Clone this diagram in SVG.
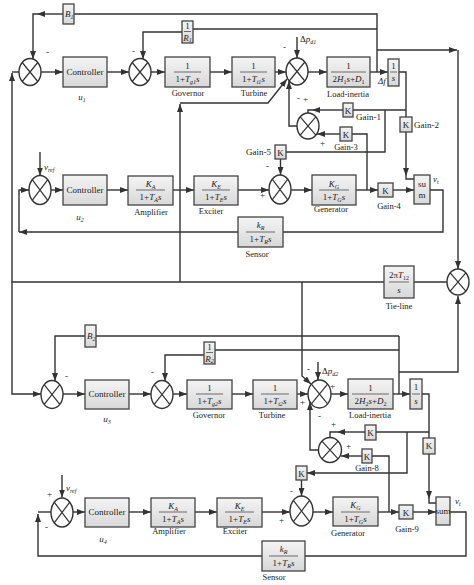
<svg xmlns="http://www.w3.org/2000/svg" width="474" height="585" viewBox="0 0 474 585">
<defs>
<linearGradient id="g" x1="0" y1="0" x2="0" y2="1">
<stop offset="0" stop-color="#f4f4f4"/><stop offset="1" stop-color="#d8d8d8"/>
</linearGradient>
<marker id="a" viewBox="0 0 8 6" refX="8" refY="3" markerWidth="8" markerHeight="6" markerUnits="userSpaceOnUse" orient="auto"><path d="M0,0L8,3L0,6z" fill="#333"/></marker>
<style>
.l{fill:none;stroke:#333;stroke-width:1.4}
.ar{marker-end:url(#a)}
.b{fill:url(#g);stroke:#444;stroke-width:1.3}
.s{fill:#fff;stroke:#333;stroke-width:1.4}
.x{stroke:#333;stroke-width:1.2;fill:none}
.fl{stroke:#333;stroke-width:0.7}
text{font-family:"Liberation Serif",serif;fill:#222;font-size:9px}
.c{text-anchor:middle}
.i{font-style:italic}
.sb{font-size:6px}
.lb{font-size:8.5px;text-anchor:middle}
</style>
</defs>
<rect width="474" height="585" fill="#fff"/>

<g id="connectors">
<path class="l ar" d="M63,14 H37"/>
<path class="l ar" d="M37,14 H33 V59"/>
<path class="l ar" d="M41,72 H63"/>
<path class="l ar" d="M107,72 H129"/>
<path class="l ar" d="M182,32 H143 V59"/>
<path class="l ar" d="M151,72 H165"/>
<path class="l ar" d="M210,72 H232"/>
<path class="l ar" d="M275,72 H286"/>
<path class="l ar" d="M297,37 V58"/>
<path class="l ar" d="M308,72 H327"/>
<path class="l ar" d="M370,72 H388"/>
<path class="l" d="M377,72 V14 H74"/>
<path class="l" d="M377,29 H193"/>
<path class="l ar" d="M377,50 H457"/>
<path class="l ar" d="M458,50 V269"/>
<path class="l ar" d="M399,72 H406 V176"/>
<path class="l" d="M406,176 V179 H414"/>
<path class="l" d="M406,110 H353"/>
<path class="l ar" d="M343,110 H312"/>
<path class="l" d="M312,110 H308 V113"/>
<path class="l" d="M385,110 V152 H286"/>
<path class="l ar" d="M280.5,159 V175"/>
<path class="l ar" d="M297,126 H289 V81"/>
<path class="l" d="M367,190 V134 H352"/>
<path class="l ar" d="M340,134 H317"/>
<path class="l ar" d="M180,282 V104"/>
<path class="l ar" d="M180,103 H268 L287,79"/>
<path class="l ar" d="M12,282 V73"/>
<path class="l" d="M12,72 H19"/>
<path class="l" d="M447,282 H414"/>
<path class="l ar" d="M384,282 H12 V394 H41"/>
<path class="l ar" d="M302,282 V376 L311,384"/>
<path class="l ar" d="M40,152 V175.5"/>
<path class="l ar" d="M51,190 H63"/>
<path class="l ar" d="M107,190 H128"/>
<path class="l ar" d="M173,190 H194"/>
<path class="l ar" d="M238,190 H269"/>
<path class="l ar" d="M291,190 H312"/>
<path class="l ar" d="M356,190 H378"/>
<path class="l ar" d="M393,190 H414"/>
<path class="l" d="M430,190 H443 V232 H283"/>
<path class="l ar" d="M238,232 H19"/>
<path class="l ar" d="M19,232 V190 H29"/>

<path class="l ar" d="M85,336 H55 V381"/>
<path class="l" d="M96,336 H399"/>
<path class="l ar" d="M204,355 H165 V381"/>
<path class="l" d="M215,350 H399"/>
<path class="l" d="M399,336 V394"/>
<path class="l ar" d="M399,372 H458 V296"/>
<path class="l ar" d="M63,394 H85"/>
<path class="l ar" d="M129,394 H151"/>
<path class="l ar" d="M173,394 H187"/>
<path class="l ar" d="M232,394 H253"/>
<path class="l ar" d="M297,394 H308"/>
<path class="l ar" d="M318,362 V380"/>
<path class="l ar" d="M331,394 H348"/>
<path class="l ar" d="M393,394 H410"/>
<path class="l ar" d="M422,394 H429 V499"/>
<path class="l" d="M429,499 V503 H436"/>
<path class="l" d="M429,432 H376"/>
<path class="l ar" d="M365,432 H337"/>
<path class="l" d="M337,432 H330 V437.5"/>
<path class="l" d="M389,512 V456 H372"/>
<path class="l ar" d="M362,456 H341"/>
<path class="l ar" d="M318.5,450 H310 V402"/>
<path class="l ar" d="M407,432 V473 H307"/>
<path class="l ar" d="M301.5,480 V496"/>
<path class="l ar" d="M62,475 V497.5"/>
<path class="l ar" d="M73,512 H85"/>
<path class="l ar" d="M129,512 H151"/>
<path class="l ar" d="M195,512 H217"/>
<path class="l ar" d="M262,512 H290"/>
<path class="l ar" d="M313,512 H333"/>
<path class="l ar" d="M378,512 H399"/>
<path class="l ar" d="M413,512 H436"/>
<path class="l" d="M450,512 H466 V556 H305"/>
<path class="l ar" d="M262,556 H38 V514"/>
<path class="l" d="M38,512 H51"/>
</g>

<!-- Summing junctions -->
<g id="sum1"><ellipse class="s" cx="30" cy="72" rx="11" ry="13.5"/><path class="x" d="M22.2,62.5 L37.8,81.5 M37.8,62.5 L22.2,81.5"/></g>
<g id="sum2"><ellipse class="s" cx="140" cy="72" rx="11" ry="13.5"/><path class="x" d="M132.2,62.5 L147.8,81.5 M147.8,62.5 L132.2,81.5"/></g>
<g id="sum3"><ellipse class="s" cx="297" cy="71.5" rx="11" ry="13.5"/><path class="x" d="M289.2,62 L304.8,81 M304.8,62 L289.2,81"/></g>
<g id="gsum1"><ellipse class="s" cx="308" cy="126" rx="11" ry="13"/><path class="x" d="M300.2,116.8 L315.8,135.2 M315.8,116.8 L300.2,135.2"/></g>
<g id="vref1"><ellipse class="s" cx="40" cy="190" rx="11" ry="14.5"/><path class="x" d="M32.2,179.7 L47.8,200.3 M47.8,179.7 L32.2,200.3"/></g>
<g id="vsum1"><ellipse class="s" cx="280" cy="189.5" rx="11" ry="14.5"/><path class="x" d="M272.2,179.2 L287.8,199.8 M287.8,179.2 L272.2,199.8"/></g>
<g id="bigsum"><ellipse class="s" cx="458" cy="282" rx="11" ry="13"/><path class="x" d="M450.2,272.8 L465.8,291.2 M465.8,272.8 L450.2,291.2"/></g>
<g id="sum21"><ellipse class="s" cx="52" cy="394.5" rx="11" ry="14"/><path class="x" d="M44.2,384.6 L59.8,404.4 M59.8,384.6 L44.2,404.4"/></g>
<g id="sum22"><ellipse class="s" cx="162" cy="394.5" rx="11" ry="14"/><path class="x" d="M154.2,384.6 L169.8,404.4 M169.8,384.6 L154.2,404.4"/></g>
<g id="sum23"><ellipse class="s" cx="319.5" cy="394" rx="11.5" ry="14"/><path class="x" d="M311.4,384.1 L327.6,403.9 M327.6,384.1 L311.4,403.9"/></g>
<g id="gsum2"><ellipse class="s" cx="330" cy="450" rx="11.5" ry="12.5"/><path class="x" d="M321.9,441.2 L338.1,458.8 M338.1,441.2 L321.9,458.8"/></g>
<g id="vref2"><ellipse class="s" cx="62" cy="512.5" rx="11" ry="14.5"/><path class="x" d="M54.2,502.2 L69.8,522.8 M69.8,502.2 L54.2,522.8"/></g>
<g id="vsum2"><ellipse class="s" cx="301.5" cy="511" rx="11.5" ry="15"/><path class="x" d="M293.4,500.4 L309.6,521.6 M309.6,500.4 L293.4,521.6"/></g>

<!-- Area 1 blocks -->
<g id="B1"><rect class="b" x="63" y="4" width="11" height="20"/><text x="65" y="17" class="i">B<tspan class="sb" dy="2">1</tspan></text></g>
<g id="R1"><rect class="b" x="182" y="21" width="11" height="22"/><text class="c" x="187.5" y="29">1</text><line class="fl" x1="184" y1="31.5" x2="191" y2="31.5"/><text class="c i" x="187.5" y="40.5" font-size="8">R<tspan class="sb" dy="1.5">1</tspan></text></g>
<g id="ctrl1"><rect class="b" x="63" y="57" width="44" height="30"/><text class="c" x="85" y="75">Controller</text><text class="c i" x="82" y="100">u<tspan class="sb" dy="2">1</tspan></text></g>
<g id="gov1"><rect class="b" x="165" y="57" width="45" height="30"/><text class="c" x="187.5" y="69">1</text><line class="fl" x1="174" y1="72" x2="201" y2="72"/><text class="c" x="187.5" y="82">1+<tspan class="i">T</tspan><tspan class="sb i" dy="2">g1</tspan><tspan class="i" dy="-2">s</tspan></text><text class="lb" x="188" y="96">Governor</text></g>
<g id="tur1"><rect class="b" x="232" y="57" width="43" height="30"/><text class="c" x="253.5" y="69">1</text><line class="fl" x1="240" y1="72" x2="267" y2="72"/><text class="c" x="253.5" y="82">1+<tspan class="i">T</tspan><tspan class="sb i" dy="2">t1</tspan><tspan class="i" dy="-2">s</tspan></text><text class="lb" x="254" y="96">Turbine</text></g>
<g id="dp1"><text x="300" y="42">Δ<tspan class="i">p</tspan><tspan class="sb i" dy="2">d1</tspan></text></g>
<g id="load1"><rect class="b" x="327" y="57" width="43" height="30"/><text class="c" x="348.5" y="69">1</text><line class="fl" x1="331" y1="72" x2="366" y2="72"/><text class="c" x="348.5" y="82" font-size="8.5">2<tspan class="i">H</tspan><tspan class="sb" dy="2">1</tspan><tspan class="i" dy="-2">s</tspan>+<tspan class="i">D</tspan><tspan class="sb" dy="2">1</tspan></text><text class="lb" x="348" y="97">Load-inertia</text></g>
<g id="df1"><text class="i" x="378" y="84">Δf</text></g>
<g id="int1"><rect class="b" x="388" y="59" width="11" height="27"/><text class="c" x="393.5" y="69">1</text><line class="fl" x1="390" y1="72" x2="397" y2="72"/><text class="c i" x="393.5" y="81">s</text></g>
<g id="gain1"><rect class="b" x="343" y="103" width="10" height="14"/><text class="c" x="348" y="113.5" font-size="8.5">K</text><text x="356" y="120" font-size="8.5">Gain-1</text></g>
<g id="gain2"><rect class="b" x="400" y="117" width="12" height="15"/><text class="c" x="406" y="128" font-size="8.5">K</text><text x="414" y="128" font-size="8.5">Gain-2</text></g>
<g id="gain3"><rect class="b" x="340" y="127" width="12" height="14"/><text class="c" x="346" y="137.5" font-size="8.5">K</text><text class="lb" x="346" y="150">Gain-3</text></g>
<g id="gain5"><rect class="b" x="275" y="145" width="11" height="14"/><text class="c" x="280.5" y="155.5" font-size="8.5">K</text><text x="271" y="155" font-size="8.5" text-anchor="end">Gain-5</text></g>
<g id="vr1"><text x="44" y="170" class="i">v<tspan class="sb" dy="2">ref</tspan></text></g>
<g id="ctrl2"><rect class="b" x="63" y="175" width="44" height="30"/><text class="c" x="85" y="193">Controller</text><text class="c i" x="80" y="220">u<tspan class="sb" dy="2">2</tspan></text></g>
<g id="amp1"><rect class="b" x="128" y="176" width="45" height="29"/><text class="c i" x="150.5" y="187">K<tspan class="sb" dy="2">A</tspan></text><line class="fl" x1="136" y1="190" x2="165" y2="190"/><text class="c" x="150.5" y="200">1+<tspan class="i">T</tspan><tspan class="sb i" dy="2">A</tspan><tspan class="i" dy="-2">s</tspan></text><text class="lb" x="151" y="215">Amplifier</text></g>
<g id="exc1"><rect class="b" x="194" y="176" width="44" height="29"/><text class="c i" x="216" y="187">K<tspan class="sb" dy="2">E</tspan></text><line class="fl" x1="202" y1="190" x2="230" y2="190"/><text class="c" x="216" y="200">1+<tspan class="i">T</tspan><tspan class="sb i" dy="2">E</tspan><tspan class="i" dy="-2">s</tspan></text><text class="lb" x="211" y="214">Exciter</text></g>
<g id="gen1"><rect class="b" x="312" y="175" width="44" height="30"/><text class="c i" x="334" y="187">K<tspan class="sb" dy="2">G</tspan></text><line class="fl" x1="319" y1="190" x2="349" y2="190"/><text class="c" x="334" y="200">1+<tspan class="i">T</tspan><tspan class="sb i" dy="2">G</tspan><tspan class="i" dy="-2">s</tspan></text><text class="lb" x="331" y="212">Generator</text></g>
<g id="gain4"><rect class="b" x="378" y="183" width="15" height="14"/><text class="c" x="385.5" y="193.5" font-size="8.5">K</text><text class="lb" x="389" y="209">Gain-4</text></g>
<g id="sumb1"><rect class="b" x="414" y="175" width="16" height="29"/><text class="c" x="422" y="187" font-size="8.5">su</text><text class="c" x="422" y="198" font-size="8.5">m</text><text x="433" y="182" class="i" font-size="8">v<tspan class="sb" dy="2">t</tspan></text></g>
<g id="sens1"><rect class="b" x="238" y="217" width="45" height="30"/><text class="c i" x="260.5" y="228">k<tspan class="sb" dy="2">R</tspan></text><line class="fl" x1="246" y1="232" x2="275" y2="232"/><text class="c" x="260.5" y="242">1+<tspan class="i">T</tspan><tspan class="sb i" dy="2">R</tspan><tspan class="i" dy="-2">s</tspan></text><text class="lb" x="257" y="257">Sensor</text></g>
<g id="tie"><rect class="b" x="384" y="266" width="30" height="32"/><text class="c" x="399" y="278" font-size="8.5">2π<tspan class="i">T</tspan><tspan class="sb" dy="2">12</tspan></text><line class="fl" x1="389" y1="282" x2="409" y2="282"/><text class="c i" x="399" y="293">s</text><text class="lb" x="399" y="309">Tie-line</text></g>

<!-- Area 2 blocks -->
<g id="B2"><rect class="b" x="85" y="325" width="11" height="22"/><text x="87" y="339" class="i">B<tspan class="sb" dy="2">2</tspan></text></g>
<g id="R2"><rect class="b" x="204" y="342" width="11" height="22"/><text class="c" x="209.5" y="350">1</text><line class="fl" x1="206" y1="352.5" x2="213" y2="352.5"/><text class="c i" x="209.5" y="361.5" font-size="8">R<tspan class="sb" dy="1.5">2</tspan></text></g>
<g id="ctrl3"><rect class="b" x="85" y="380" width="44" height="29"/><text class="c" x="107" y="397">Controller</text><text class="c i" x="107" y="422">u<tspan class="sb" dy="2">3</tspan></text></g>
<g id="gov2"><rect class="b" x="187" y="380" width="45" height="29"/><text class="c" x="209.5" y="391">1</text><line class="fl" x1="196" y1="394" x2="223" y2="394"/><text class="c" x="209.5" y="404">1+<tspan class="i">T</tspan><tspan class="sb i" dy="2">g2</tspan><tspan class="i" dy="-2">s</tspan></text><text class="lb" x="209" y="418">Governor</text></g>
<g id="tur2"><rect class="b" x="253" y="380" width="44" height="29"/><text class="c" x="275" y="391">1</text><line class="fl" x1="261" y1="394" x2="289" y2="394"/><text class="c" x="275" y="404">1+<tspan class="i">T</tspan><tspan class="sb i" dy="2">t2</tspan><tspan class="i" dy="-2">s</tspan></text><text class="lb" x="272" y="418">Turbine</text></g>
<g id="dp2"><text x="322" y="374">Δ<tspan class="i">p</tspan><tspan class="sb i" dy="2">d2</tspan></text></g>
<g id="load2"><rect class="b" x="348" y="379" width="45" height="30"/><text class="c" x="370.5" y="391">1</text><line class="fl" x1="352" y1="394" x2="389" y2="394"/><text class="c" x="370.5" y="404" font-size="8.5">2<tspan class="i">H</tspan><tspan class="sb" dy="2">2</tspan><tspan class="i" dy="-2">s</tspan>+<tspan class="i">D</tspan><tspan class="sb" dy="2">2</tspan></text><text class="lb" x="370" y="418">Load-inertia</text></g>
<g id="int2"><rect class="b" x="410" y="379" width="12" height="30"/><text class="c" x="416" y="390">1</text><line class="fl" x1="412" y1="394" x2="420" y2="394"/><text class="c i" x="416" y="404">s</text></g>
<g id="gain6"><rect class="b" x="365" y="425" width="11" height="15"/><text class="c" x="370.5" y="435.5" font-size="8.5">K</text></g>
<g id="gain7"><rect class="b" x="423" y="438" width="12" height="16"/><text class="c" x="429" y="449" font-size="8.5">K</text></g>
<g id="gain8"><rect class="b" x="362" y="449" width="10" height="14"/><text class="c" x="367" y="459.5" font-size="8.5">K</text><text class="lb" x="367" y="471">Gain-8</text></g>
<g id="gain10"><rect class="b" x="296" y="466" width="11" height="14"/><text class="c" x="301.5" y="476.5" font-size="8.5">K</text></g>
<g id="vr2"><text x="66" y="491" class="i">v<tspan class="sb" dy="2">ref</tspan></text></g>
<g id="ctrl4"><rect class="b" x="85" y="498" width="44" height="29"/><text class="c" x="107" y="515">Controller</text><text class="c i" x="103" y="542">u<tspan class="sb" dy="2">4</tspan></text></g>
<g id="amp2"><rect class="b" x="151" y="498" width="44" height="29"/><text class="c i" x="173" y="509">K<tspan class="sb" dy="2">A</tspan></text><line class="fl" x1="159" y1="512" x2="187" y2="512"/><text class="c" x="173" y="522">1+<tspan class="i">T</tspan><tspan class="sb i" dy="2">A</tspan><tspan class="i" dy="-2">s</tspan></text><text class="lb" x="169" y="534">Amplifier</text></g>
<g id="exc2"><rect class="b" x="217" y="498" width="45" height="29"/><text class="c i" x="239.5" y="509">K<tspan class="sb" dy="2">E</tspan></text><line class="fl" x1="225" y1="512" x2="254" y2="512"/><text class="c" x="239.5" y="522">1+<tspan class="i">T</tspan><tspan class="sb i" dy="2">E</tspan><tspan class="i" dy="-2">s</tspan></text><text class="lb" x="235" y="534">Exciter</text></g>
<g id="gen2"><rect class="b" x="333" y="497" width="45" height="29"/><text class="c i" x="355.5" y="508">K<tspan class="sb" dy="2">G</tspan></text><line class="fl" x1="341" y1="512" x2="370" y2="512"/><text class="c" x="355.5" y="522">1+<tspan class="i">T</tspan><tspan class="sb i" dy="2">G</tspan><tspan class="i" dy="-2">s</tspan></text><text class="lb" x="348" y="536">Generator</text></g>
<g id="gain9"><rect class="b" x="399" y="505" width="14" height="14"/><text class="c" x="406" y="515.5" font-size="8.5">K</text><text class="lb" x="407" y="532">Gain-9</text></g>
<g id="sumb2"><rect class="b" x="436" y="497" width="14" height="28"/><text class="c" x="443" y="514" font-size="5.5">sum</text><text x="455" y="504" class="i" font-size="8">v<tspan class="sb" dy="2">t</tspan></text></g>
<g id="sens2"><rect class="b" x="262" y="541" width="43" height="30"/><text class="c i" x="283.5" y="552">k<tspan class="sb" dy="2">R</tspan></text><line class="fl" x1="269" y1="556" x2="298" y2="556"/><text class="c" x="283.5" y="566">1+<tspan class="i">T</tspan><tspan class="sb i" dy="2">R</tspan><tspan class="i" dy="-2">s</tspan></text><text class="lb" x="274" y="580">Sensor</text></g>

<!-- Signs -->
<g id="signs" font-size="9">
<text x="46" y="55">-</text>
<text x="132" y="54">-</text>
<text x="283" y="50">-</text>
<text x="297" y="101">-</text>
<text x="303" y="102">+</text>
<text x="320" y="146">+</text>
<text x="266" y="169">-</text>
<text x="260" y="198">+</text>
<text x="65" y="379">-</text>
<text x="151" y="375">-</text>
<text x="307" y="372">-</text>
<text x="300" y="405">+</text>
<text x="330" y="389">+</text>
<text x="318" y="419">-</text>
<text x="331" y="427">+</text>
<text x="346" y="449">+</text>
<text x="290" y="494">-</text>
<text x="279" y="523">+</text>
<text x="47" y="497">+</text>
<text x="45" y="530">-</text>
</g>
</svg>
